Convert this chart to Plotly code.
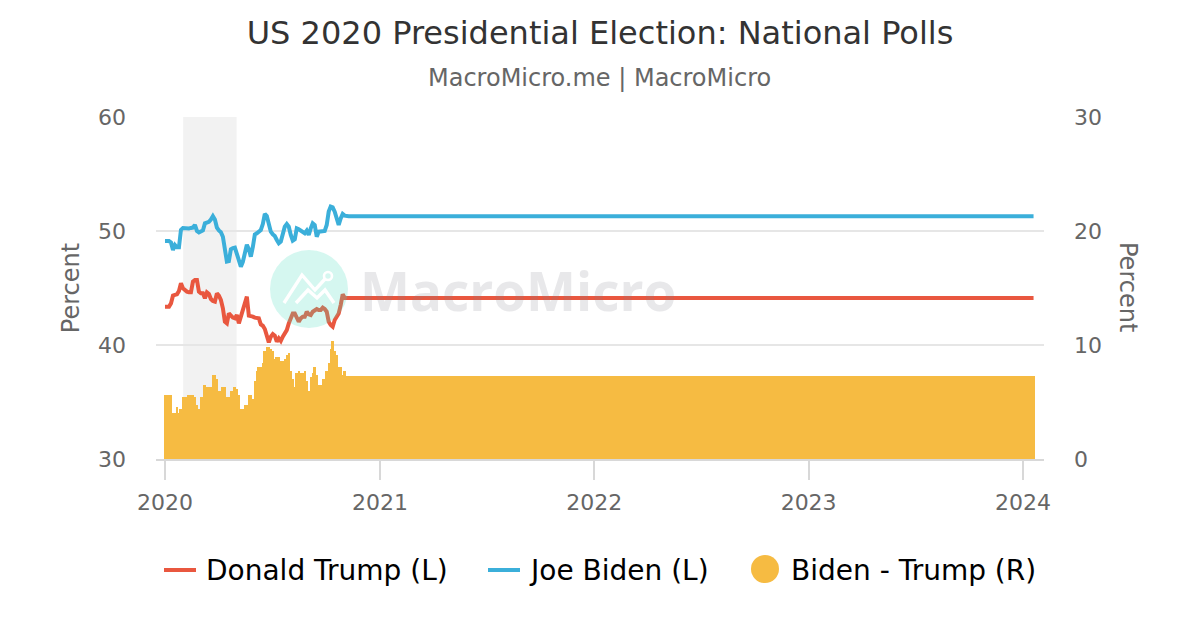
import pandas as pd
import plotly.graph_objects as go

# ---- data ----
chart_title = "US 2020 Presidential Election: National Polls"
chart_subtitle = "MacroMicro.me | MacroMicro"
first_date = "2020-01-01"
sample_step = "4896min"
tail_count = 345

trump_values = [
    43.36, 43.36, 43.36, 43.65, 44.33, 44.39, 44.44, 44.74, 45.41, 44.97, 44.77, 44.68, 44.62, 44.62, 45.56, 45.7,
    45.7, 44.68, 44.53, 44.53, 44.09, 44.62, 44.47, 44.03, 43.86, 43.8, 44.53, 44.33, 43.95, 43.22, 42.05, 41.9,
    42.78, 42.57, 42.4, 42.34, 42.63, 41.9, 42.49, 43.07, 43.8, 44.24, 42.57, 42.57, 42.49, 42.4, 42.4, 42.34,
    41.81, 41.69, 41.4, 40.82, 40.23, 40.73, 40.96, 40.82, 40.29, 40.58, 40.35, 40.73, 41.02, 41.31, 41.9, 42.48,
    42.77, 42.77, 42.48, 42.04, 42.34, 42.48, 42.48, 42.92, 42.69, 42.63, 42.92, 43.07, 43.15, 43.07, 43.07, 43.27,
    43.15, 42.92, 42.04, 41.75, 41.6, 42.19, 42.48, 42.77, 43.5, 44.44, 44.15,
]
biden_values = [
    49.12, 49.12, 49.12, 49.0, 48.33, 48.77, 48.57, 48.57, 50.1, 50.26, 50.23, 50.23, 50.23, 50.27, 50.3, 50.53,
    50.0, 49.88, 49.95, 50.05, 50.67, 50.7, 50.8, 51.0, 51.3, 51.0, 50.3, 50.05, 49.9, 49.5, 48.19, 47.31,
    47.35, 48.4, 48.5, 48.54, 48.0, 47.3, 46.87, 47.3, 48.2, 48.8, 48.4, 47.75, 48.6, 49.7, 49.8, 49.94,
    50.09, 50.61, 51.49, 51.32, 50.53, 49.94, 49.71, 49.56, 49.21, 48.92, 49.07, 49.71, 50.38, 50.61, 50.38, 49.65,
    49.15, 49.27, 50.23, 50.15, 50.03, 49.85, 49.8, 50.03, 49.65, 50.23, 50.67, 50.53, 49.5, 49.94, 49.94, 49.94,
    50.0, 50.53, 51.7, 52.14, 52.08, 51.7, 50.97, 50.53, 51.1, 51.49, 51.35,
]
spread_values = [
    5.65, 5.65, 5.65, 5.65, 4.06, 4.06, 4.59, 4.06, 4.42, 5.47, 5.47, 5.47, 5.65, 5.65, 5.65, 5.47,
    4.77, 4.42, 5.47, 5.47, 6.52, 6.35, 6.35, 6.35, 7.40, 7.40, 7.05, 6.0, 6.0, 6.35, 6.35, 5.47,
    5.47, 6.0, 6.0, 6.35, 6.17, 5.65, 4.42, 4.42, 4.77, 4.77, 5.65, 5.65, 5.3, 6.87, 7.75, 8.1,
    8.1, 8.45, 9.5, 9.85, 9.85, 9.68, 9.5, 8.8, 8.98, 8.98, 8.63, 8.63, 8.8, 9.15, 9.33, 7.75,
    7.05, 6.35, 7.57, 7.75, 7.57, 7.57, 7.75, 6.87, 6.0, 7.22, 7.57, 8.1, 7.4, 6.52, 6.52, 7.05,
    7.05, 7.75, 8.45, 9.68, 10.38, 9.5, 9.15, 8.1, 8.1, 7.4, 7.75,
]
tail_trump = 44.12
tail_biden = 51.3
tail_spread = 7.25
recession_start = "2020-02-01"
recession_end = "2020-05-02"
year_ticks = ["2020-01-01", "2021-01-01", "2022-01-01", "2023-01-01", "2024-01-01"]
year_labels = ["2020", "2021", "2022", "2023", "2024"]

RED, BLUE, GOLD = "#e9573f", "#3bafda", "#f6bb42"
GRID, AXIS, TEXT = "#e6e6e6", "#d8d8d8", "#666666"
L, R, T, B = 156, 1044, 117, 459


def px(x):
    return (x - L) / (R - L)


def py(y):
    return (B - y) / (B - T)


dates = pd.date_range(first_date, periods=len(trump_values) + tail_count, freq=sample_step)
trump = trump_values + [tail_trump] * tail_count
biden = biden_values + [tail_biden] * tail_count
spread = spread_values + [tail_spread] * tail_count
bar_width_ms = 4896 * 60 * 1000

fig = go.Figure()
fig.add_bar(x=dates, y=spread, name="Biden - Trump (R)", yaxis="y2", width=bar_width_ms,
            marker=dict(color=GOLD, line=dict(width=0)), showlegend=False)
fig.add_scatter(x=dates, y=trump, name="Donald Trump (L)", mode="lines",
                line=dict(color=RED, width=4), showlegend=False)
fig.add_scatter(x=dates, y=biden, name="Joe Biden (L)", mode="lines",
                line=dict(color=BLUE, width=4), showlegend=False)


def path(points):
    return "M " + " L ".join(f"{px(x):.5f} {py(y):.5f}" for x, y in points)


shapes = [
    dict(type="rect", xref="x", yref="paper", x0=recession_start, x1=recession_end, y0=0, y1=1,
         fillcolor="#f2f2f2", line_width=0, layer="below"),
    # watermark
    dict(type="circle", xref="paper", yref="paper", x0=px(270), x1=px(348), y0=py(328), y1=py(250),
         fillcolor="rgba(80,221,192,0.24)", line_width=0, layer="above"),
]
for pts in ([(284, 303), (302, 275), (315, 290), (325, 279)],
            [(296, 303), (308, 290), (317, 298), (325, 290), (334, 303)]):
    shapes.append(dict(type="path", xref="paper", yref="paper", path=path(pts),
                       line=dict(color="white", width=3.4), layer="above"))
shapes.append(dict(type="circle", xref="paper", yref="paper", x0=px(324), x1=px(332), y0=py(280), y1=py(272),
                   line=dict(color="white", width=2.6), layer="above"))
# legend swatches
for x0, x1, c in ((164, 196, RED), (488, 520, BLUE)):
    shapes.append(dict(type="line", xref="paper", yref="paper", x0=px(x0), x1=px(x1), y0=py(570), y1=py(570),
                       line=dict(color=c, width=4)))
shapes.append(dict(type="circle", xref="paper", yref="paper", x0=px(751), x1=px(779), y0=py(583), y1=py(555),
                   fillcolor=GOLD, line_width=0))


def note(text, x, y, size, color, anchor="left", family="DejaVu Sans", **kw):
    return dict(text=text, x=px(x), y=py(y), xref="paper", yref="paper", showarrow=False, xanchor=anchor,
                yanchor="middle", font=dict(size=size, color=color, family=family), **kw)


annotations = [
    note(chart_subtitle, 599.5, 78, 24, TEXT, "center"),
    note("<b>MacroMicro</b>", 518, 290, 53, "rgba(125,130,140,0.18)", "center", family="Open Sans"),
    note("Donald Trump (L)", 203.5, 570.5, 28, "#000000"),
    note("Joe Biden (L)", 526.5, 570.5, 28, "#000000"),
    note("Biden - Trump (R)", 789, 570.5, 28, "#000000"),
    note("Percent", 1128, 287, 24, TEXT, "center", textangle=90),
]

fig.update_layout(
    width=1200, height=630, margin=dict(l=L, r=1200 - R, t=T, b=630 - B),
    paper_bgcolor="white", plot_bgcolor="white", bargap=0, showlegend=False,
    font=dict(family="DejaVu Sans", color=TEXT),
    title=dict(text=chart_title, x=0.5, xanchor="center", y=1 - 33 / 630, yanchor="middle",
               font=dict(size=32, color="#333333", family="DejaVu Sans")),
    shapes=shapes, annotations=annotations,
    xaxis=dict(type="date", range=["2019-12-16 17:00", "2024-02-05 19:00"], tickmode="array",
               tickvals=year_ticks, ticktext=year_labels, ticks="outside", ticklen=19, tickwidth=2,
               tickcolor=AXIS, showgrid=False, showline=True, linecolor=AXIS, linewidth=2,
               tickfont=dict(size=22, color=TEXT), ticklabelstandoff=4, zeroline=False),
    yaxis=dict(range=[30, 60], tickvals=[30, 40, 50, 60], gridcolor=GRID, gridwidth=2, zeroline=False,
               tickfont=dict(size=22, color=TEXT), ticks="", ticklabelstandoff=29,
               title=dict(text="Percent", font=dict(size=24, color=TEXT), standoff=11)),
    yaxis2=dict(range=[0, 30], tickvals=[0, 10, 20, 30], overlaying="y", side="right", showgrid=False,
                zeroline=False, tickfont=dict(size=22, color=TEXT), ticks="", ticklabelstandoff=29),
)

fig.write_html("out.html", config={"displayModeBar": False}, post_script="document.body.style.margin='0';")
